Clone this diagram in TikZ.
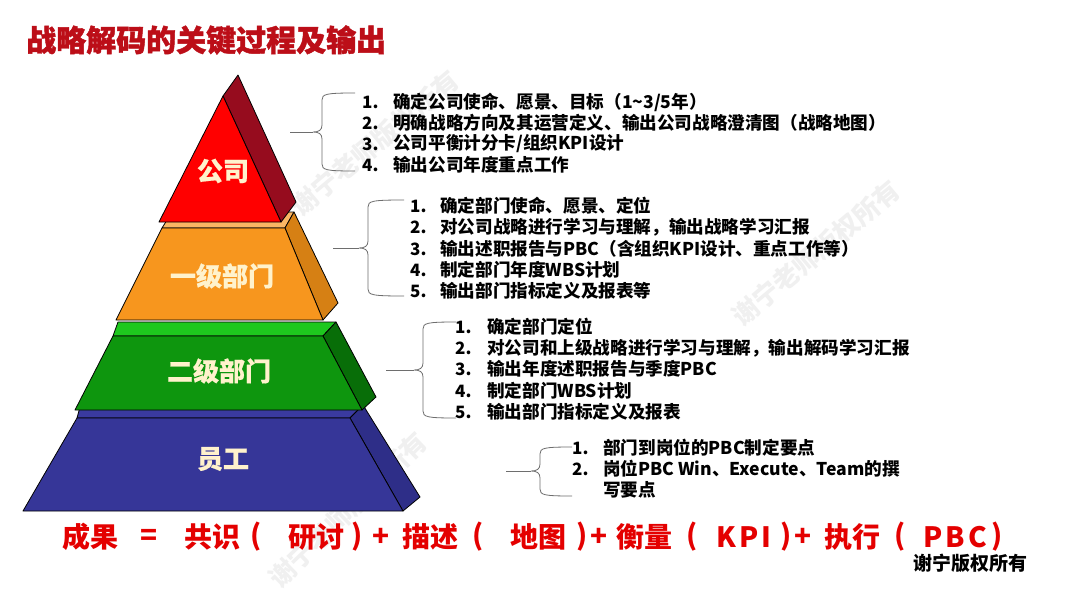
\documentclass[tikz,border=0pt]{standalone}
\usepackage{fontspec}
\setmainfont{Noto Sans CJK SC}
\definecolor{titlered}{RGB}{188,14,24}
\definecolor{redF}{RGB}{255,0,0}
\definecolor{redS}{RGB}{150,12,30}
\definecolor{orF}{RGB}{247,150,30}
\definecolor{orT}{RGB}{250,182,100}
\definecolor{orS}{RGB}{214,128,20}
\definecolor{grF}{RGB}{14,150,14}
\definecolor{grT}{RGB}{30,200,30}
\definecolor{grS}{RGB}{8,110,8}
\definecolor{blF}{RGB}{54,54,152}
\definecolor{blT}{RGB}{58,58,160}
\definecolor{blS}{RGB}{46,46,136}
\definecolor{labelc}{RGB}{255,242,204}
\definecolor{formred}{RGB}{228,0,0}
\definecolor{bracec}{RGB}{110,110,110}
\newcommand\mybrace[6]{% xr, xv, yt, ym, yb, xtip
  \draw[bracestyle] (#1,#3) .. controls (#2+4,#3) and (#2,#3+1) .. (#2,#3+7) -- (#2,#4-7)
    .. controls (#2,#4-2) and (#2-3,#4) .. (#2-9,#4)
    .. controls (#2-3,#4) and (#2,#4+2) .. (#2,#4+7) -- (#2,#5-7)
    .. controls (#2,#5-1) and (#2+4,#5) .. (#1,#5);
  \draw[bracestyle] (#2-9,#4) -- (#6,#4);}
\begin{document}
\begin{tikzpicture}[x=1pt,y=-1pt,
  face/.style={draw=black,line width=0.8pt,line join=round},
  lvl/.style={text=labelc,font=\bfseries\fontsize{26}{28}\selectfont\addfontfeature{FakeBold=0.6},inner sep=0pt},
  num/.style={anchor=west,inner sep=0pt,font=\bfseries\fontsize{17}{20}\selectfont},
  item/.style={anchor=west,inner sep=0pt,font=\bfseries\fontsize{17.6}{20}\selectfont},
  form/.style={text=formred,inner sep=0pt,font=\bfseries\fontsize{28}{30}\selectfont},
  wm/.style={text=black!6,inner sep=0pt,font=\bfseries\fontsize{26}{28}\selectfont,rotate=40},
  bracestyle/.style={draw=bracec,line width=0.8pt}]
\useasboundingbox (0,0) rectangle (1080,608);
\fill[white] (0,0) rectangle (1080,608);
% watermarks
\node[wm] (w1) at (375,143) {谢宁老师版权所有};
\node[wm] (w2) at (816,253) {谢宁老师版权所有};
\node[wm,rotate=4] (w3) at (348,510) {谢宁老师版权所有};
% title
\node[text=titlered,inner sep=0pt,font=\bfseries\fontsize{30}{32}\selectfont\addfontfeature{FakeBold=1.5},anchor=west] (title) at (26,40) {战略解码的关键过程及输出};
% blue layer
\draw[face,fill=blT] (77,418) -- (350,418) -- (363,405) -- (80,407) -- cycle;
\draw[face,fill=blS] (350,418) -- (363,405) -- (420,497) -- (403,511) -- cycle;
\draw[face,fill=blF] (77,418) -- (350,418) -- (403,511) -- (23,511) -- cycle;
% green layer
\draw[face,fill=grT] (113,336) -- (323,336) -- (336,322) -- (118,322) -- cycle;
\draw[face,fill=grS] (323,336) -- (336,322) -- (376,397) -- (362,410) -- cycle;
\draw[face,fill=grF] (113,336) -- (323,336) -- (362,410) -- (75,410) -- cycle;
% orange layer
\draw[face,fill=orT] (162,228) -- (285,228) -- (294,212) -- (172,212) -- cycle;
\draw[face,fill=orS] (285,228) -- (294,212) -- (338,303) -- (323,320) -- cycle;
\draw[face,fill=orF] (162,228) -- (285,228) -- (323,320) -- (116,320) -- cycle;
% red layer
\draw[face,fill=redS] (223,96) -- (238,75) -- (296,202) -- (281,222) -- cycle;
\draw[face,fill=redF] (223,96) -- (281,222) -- (159,222) -- cycle;
% level labels
\node[lvl] (l1) at (223,171) {公司};
\node[lvl] (l2) at (222,276) {一级部门};
\node[lvl] (l3) at (219,371) {二级部门};
\node[lvl] (l4) at (223,459) {员工};
% braces
\mybrace{355}{322}{93}{132}{171}{290}
\mybrace{404}{368}{200}{248}{296}{333}
\mybrace{456}{423}{322}{370}{418}{386}
\mybrace{572}{540}{447}{471}{496}{506}
% list 1
\node[num] (a1n) at (362,102) {1.}; \node[item] (a1) at (393,102) {确定公司使命、愿景、目标（1\textasciitilde3/5年）};
\node[num] (a2n) at (362,123) {2.}; \node[item] (a2) at (393,123) {明确战略方向及其运营定义、输出公司战略澄清图（战略地图）};
\node[num] (a3n) at (362,144) {3.}; \node[item] (a3) at (393,144) {公司平衡计分卡/组织KPI设计};
\node[num] (a4n) at (362,165) {4.}; \node[item] (a4) at (393,165) {输出公司年度重点工作};
% list 2
\node[num] (b1n) at (410,206) {1.}; \node[item] (b1) at (440,206) {确定部门使命、愿景、定位};
\node[num] (b2n) at (410,227) {2.}; \node[item] (b2) at (440,227) {对公司战略进行学习与理解，输出战略学习汇报};
\node[num] (b3n) at (410,249) {3.}; \node[item] (b3) at (440,249) {输出述职报告与PBC（含组织KPI设计、重点工作等）};
\node[num] (b4n) at (410,270) {4.}; \node[item] (b4) at (440,270) {制定部门年度WBS计划};
\node[num] (b5n) at (410,291) {5.}; \node[item] (b5) at (440,291) {输出部门指标定义及报表等};
% list 3
\node[num] (c1n) at (455,327) {1.}; \node[item] (c1) at (487,327) {确定部门定位};
\node[num] (c2n) at (455,348) {2.}; \node[item] (c2) at (487,348) {对公司和上级战略进行学习与理解，输出解码学习汇报};
\node[num] (c3n) at (455,369) {3.}; \node[item] (c3) at (487,369) {输出年度述职报告与季度PBC};
\node[num] (c4n) at (455,391) {4.}; \node[item] (c4) at (487,391) {制定部门WBS计划};
\node[num] (c5n) at (455,412) {5.}; \node[item] (c5) at (487,412) {输出部门指标定义及报表};
% list 4
\node[num] (d1n) at (572,448) {1.}; \node[item] (d1) at (603,448) {部门到岗位的PBC制定要点};
\node[num] (d2n) at (572,469) {2.}; \node[item] (d2) at (603,469) {岗位PBC Win、Execute、Team的撰};
\node[item] (d3) at (603,490) {写要点};
% formula
\foreach \x/\t [count=\i] in {90/成果,149/=,212/共识,256/(,316/研讨,357/),381/+,430/描述,478/(,538/地图,582/),599/+,644/衡量,692/(,744/{K\hspace{3pt}P\hspace{3pt}I},786/),803/+,852/执行,900/(,955/{P\hspace{3pt}B\hspace{3pt}C},997/)}
  \node[form] (f\i) at (\x,537) {\t};
\node[inner sep=0pt,font=\bfseries\fontsize{19}{21}\selectfont] (copy) at (970,563) {谢宁版权所有};
\end{tikzpicture}
\end{document}
